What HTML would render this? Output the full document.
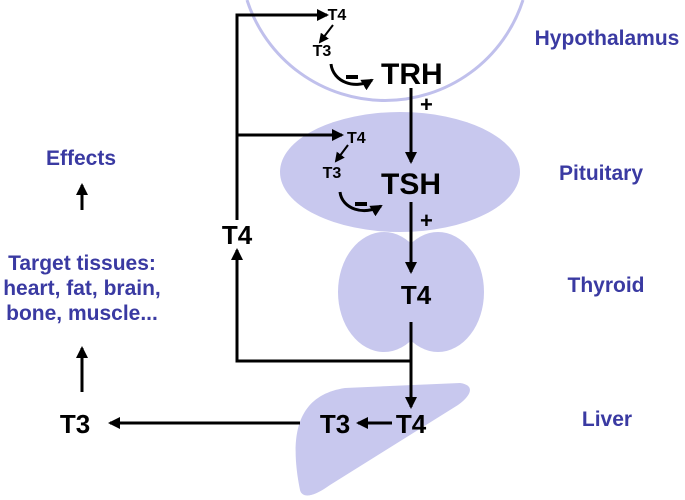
<!DOCTYPE html>
<html><head><style>body{margin:0;background:#fff}svg{display:block}</style></head><body>
<svg width="685" height="500" viewBox="0 0 685 500" xmlns="http://www.w3.org/2000/svg" font-family="Liberation Sans, sans-serif" font-weight="bold">
<defs><marker id="a" markerWidth="12" markerHeight="12" refX="10" refY="6" orient="auto" markerUnits="userSpaceOnUse"><path d="M0,0 L12,6 L0,12 Z" fill="#000"/></marker>
<marker id="b" markerWidth="10" markerHeight="10" refX="8" refY="5" orient="auto" markerUnits="userSpaceOnUse"><path d="M0,0 L10,5 L0,10 Z" fill="#000"/></marker></defs>
<path d="M247,0 A145,145 0 0 0 523,0" fill="none" stroke="#c0c0ec" stroke-width="3"/>
<ellipse cx="400" cy="172" rx="120" ry="60" fill="#c8c8ee"/>
<ellipse cx="384" cy="292" rx="46" ry="60" fill="#c8c8ee"/>
<ellipse cx="438" cy="292" rx="46" ry="60" fill="#c8c8ee"/>
<path d="M300,490 C288,430 300,395 345,388 L460,383 C475,385 472,395 458,405 L330,485 C312,498 302,498 300,490 Z" fill="#c8c8ee"/>
<g stroke="#000" stroke-width="3" fill="none">
<line x1="411" y1="88" x2="411" y2="162" marker-end="url(#a)"/>
<line x1="411" y1="202" x2="411" y2="272" marker-end="url(#a)"/>
<line x1="411" y1="322" x2="411" y2="407" marker-end="url(#a)"/>
<polyline points="411,361 237,361 237,250" marker-end="url(#a)"/>
<polyline points="237,220 237,15 327,15" marker-end="url(#a)"/>
<line x1="237" y1="135" x2="342" y2="135" marker-end="url(#a)"/>
<line x1="300" y1="423" x2="110" y2="423" marker-end="url(#a)"/>
<line x1="392" y1="423" x2="358" y2="423" marker-end="url(#a)"/>
<line x1="82" y1="210" x2="82" y2="185" marker-end="url(#a)"/>
<line x1="82" y1="392" x2="82" y2="348" marker-end="url(#a)"/>
</g>
<g stroke="#000" stroke-width="2" fill="none">
<line x1="333" y1="25" x2="320" y2="42" marker-end="url(#b)"/>
<line x1="348" y1="145" x2="336" y2="161" marker-end="url(#b)"/>
<path d="M331,64 C333,82 355,90 372,80" stroke-width="3" marker-end="url(#a)"/>
<path d="M340,192 C342,209 364,216 381,206" stroke-width="3" marker-end="url(#a)"/>
</g>
<rect x="346" y="75" width="12" height="4" fill="#000"/>
<rect x="355" y="202" width="12" height="4" fill="#000"/>
<g fill="#000">
<text x="337" y="20" text-anchor="middle" font-size="16">T4</text>
<text x="322" y="56" text-anchor="middle" font-size="16">T3</text>
<text x="347" y="143" font-size="16">T4</text>
<text x="332" y="178" text-anchor="middle" font-size="16">T3</text>
<text x="381" y="84" font-size="30">TRH</text>
<text x="381" y="194" font-size="30">TSH</text>
<text x="420" y="112" font-size="22">+</text>
<text x="420" y="228" font-size="22">+</text>
<text x="416" y="304" text-anchor="middle" font-size="26">T4</text>
<text x="237" y="244" text-anchor="middle" font-size="26">T4</text>
<text x="411" y="433" text-anchor="middle" font-size="26">T4</text>
<text x="335" y="433" text-anchor="middle" font-size="26">T3</text>
<text x="75" y="433" text-anchor="middle" font-size="26">T3</text>
</g>
<g fill="#3a3aa2" font-size="21" text-anchor="middle">
<text x="607" y="45">Hypothalamus</text>
<text x="601" y="180">Pituitary</text>
<text x="606" y="292">Thyroid</text>
<text x="607" y="426">Liver</text>
<text x="81" y="165">Effects</text>
<text x="82" y="270">Target tissues:</text>
<text x="82" y="295">heart, fat, brain,</text>
<text x="82" y="320">bone, muscle...</text>
</g>
</svg>
</body></html>
